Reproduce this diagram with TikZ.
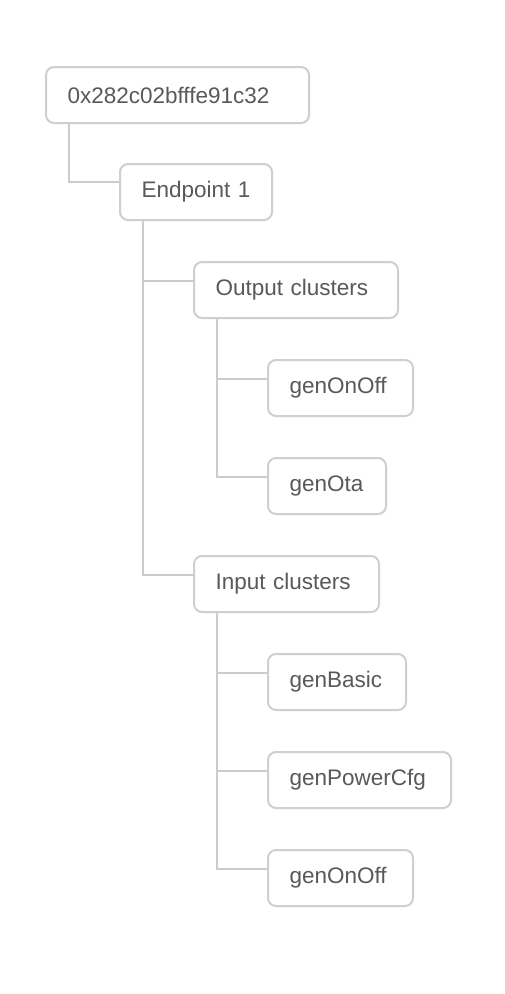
\documentclass[tikz,border=0pt]{standalone}
\usepackage{fontspec}
\setmainfont{Liberation Sans}
\usepackage[dvipsnames]{xcolor}

\definecolor{boxline}{HTML}{CFCFCF}
\definecolor{treeline}{HTML}{CCCCCC}
\definecolor{boxtext}{HTML}{595959}

\begin{document}
\begin{tikzpicture}[x=1pt,y=-1pt,line width=2pt,main node/.style={draw=boxline,fill=white,rounded corners=8pt,anchor=north west,minimum height=56pt,inner xsep=21.5pt,inner ysep=0pt,text width=#1,align=left,text=boxtext,font=\fontsize{22.5}{27}\selectfont},tree/.style={draw=treeline,rounded corners=0pt}]

                \useasboundingbox[fill=white] (0,0) rectangle (504,994);

                \node[main node=220pt] (root) at (45,66) {0x282c02bfffe91c32};
                \node[main node=109pt] (ep) at (119,163) {Endpoint 1};
                \node[main node=161pt] (out) at (193,261) {Output clusters};
                \node[main node=102pt] (o1) at (267,359) {genOnOff};
                \node[main node=75pt] (o2) at (267,457) {genOta};
                \node[main node=142pt] (in) at (193,555) {Input clusters};
                \node[main node=95pt] (i1) at (267,653) {genBasic};
                \node[main node=140pt] (i2) at (267,751) {genPowerCfg};
                \node[main node=102pt] (i3) at (267,849) {genOnOff};

                \draw[tree] ([xshift=24pt]root.south west) |- ([yshift=-19pt]ep.north west);
                \draw[tree] ([xshift=24pt]ep.south west) |- ([yshift=-20pt]out.north west);
                \draw[tree] ([xshift=24pt]ep.south west) |- ([yshift=-20pt]in.north west);
                \draw[tree] ([xshift=24pt]out.south west) |- ([yshift=-20pt]o1.north west);
                \draw[tree] ([xshift=24pt]out.south west) |- ([yshift=-20pt]o2.north west);
                \draw[tree] ([xshift=24pt]in.south west) |- ([yshift=-20pt]i1.north west);
                \draw[tree] ([xshift=24pt]in.south west) |- ([yshift=-20pt]i2.north west);
                \draw[tree] ([xshift=24pt]in.south west) |- ([yshift=-20pt]i3.north west);

                ;
            \end{tikzpicture}
\end{document}
